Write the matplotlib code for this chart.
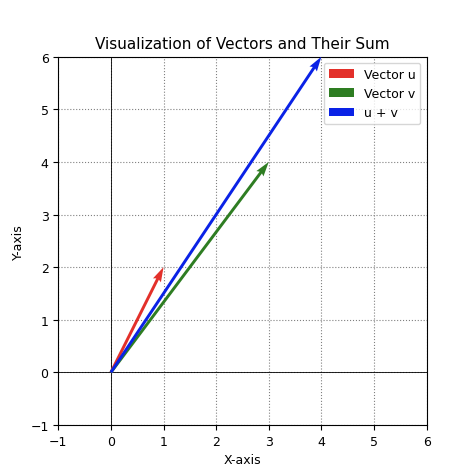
import matplotlib.pyplot as plt

# vectors
u = [1, 2]
v = [3, 4]
s = [u[0] + v[0], u[1] + v[1]]
labels = ['Vector u', 'Vector v', 'u + v']
colors = ['#e3302a', '#2e7d22', '#0a22e6']

plt.rcParams['font.size'] = 9
fig = plt.figure(figsize=(4.74, 4.77), dpi=100)
ax = fig.add_axes([0.12, 0.107, 0.783, 0.772])

ax.axhline(0, color='black', linewidth=0.6)
ax.axvline(0, color='black', linewidth=0.6)

for vec, lab, col in zip([u, v, s], labels, colors):
    ax.quiver(0, 0, vec[0], vec[1], angles='xy', scale_units='xy', scale=1,
              color=col, label=lab, width=0.008, zorder=3)

ax.set_xlim(-1, 6)
ax.set_ylim(-1, 6)
ax.set_aspect('equal')
ax.grid(True, color='gray', linestyle=':', linewidth=0.8)
ax.set_title('Visualization of Vectors and Their Sum', fontsize=11)
ax.set_xlabel('X-axis')
ax.set_ylabel('Y-axis')
ax.legend(loc='upper right', fontsize=9)

plt.savefig('out.png')
